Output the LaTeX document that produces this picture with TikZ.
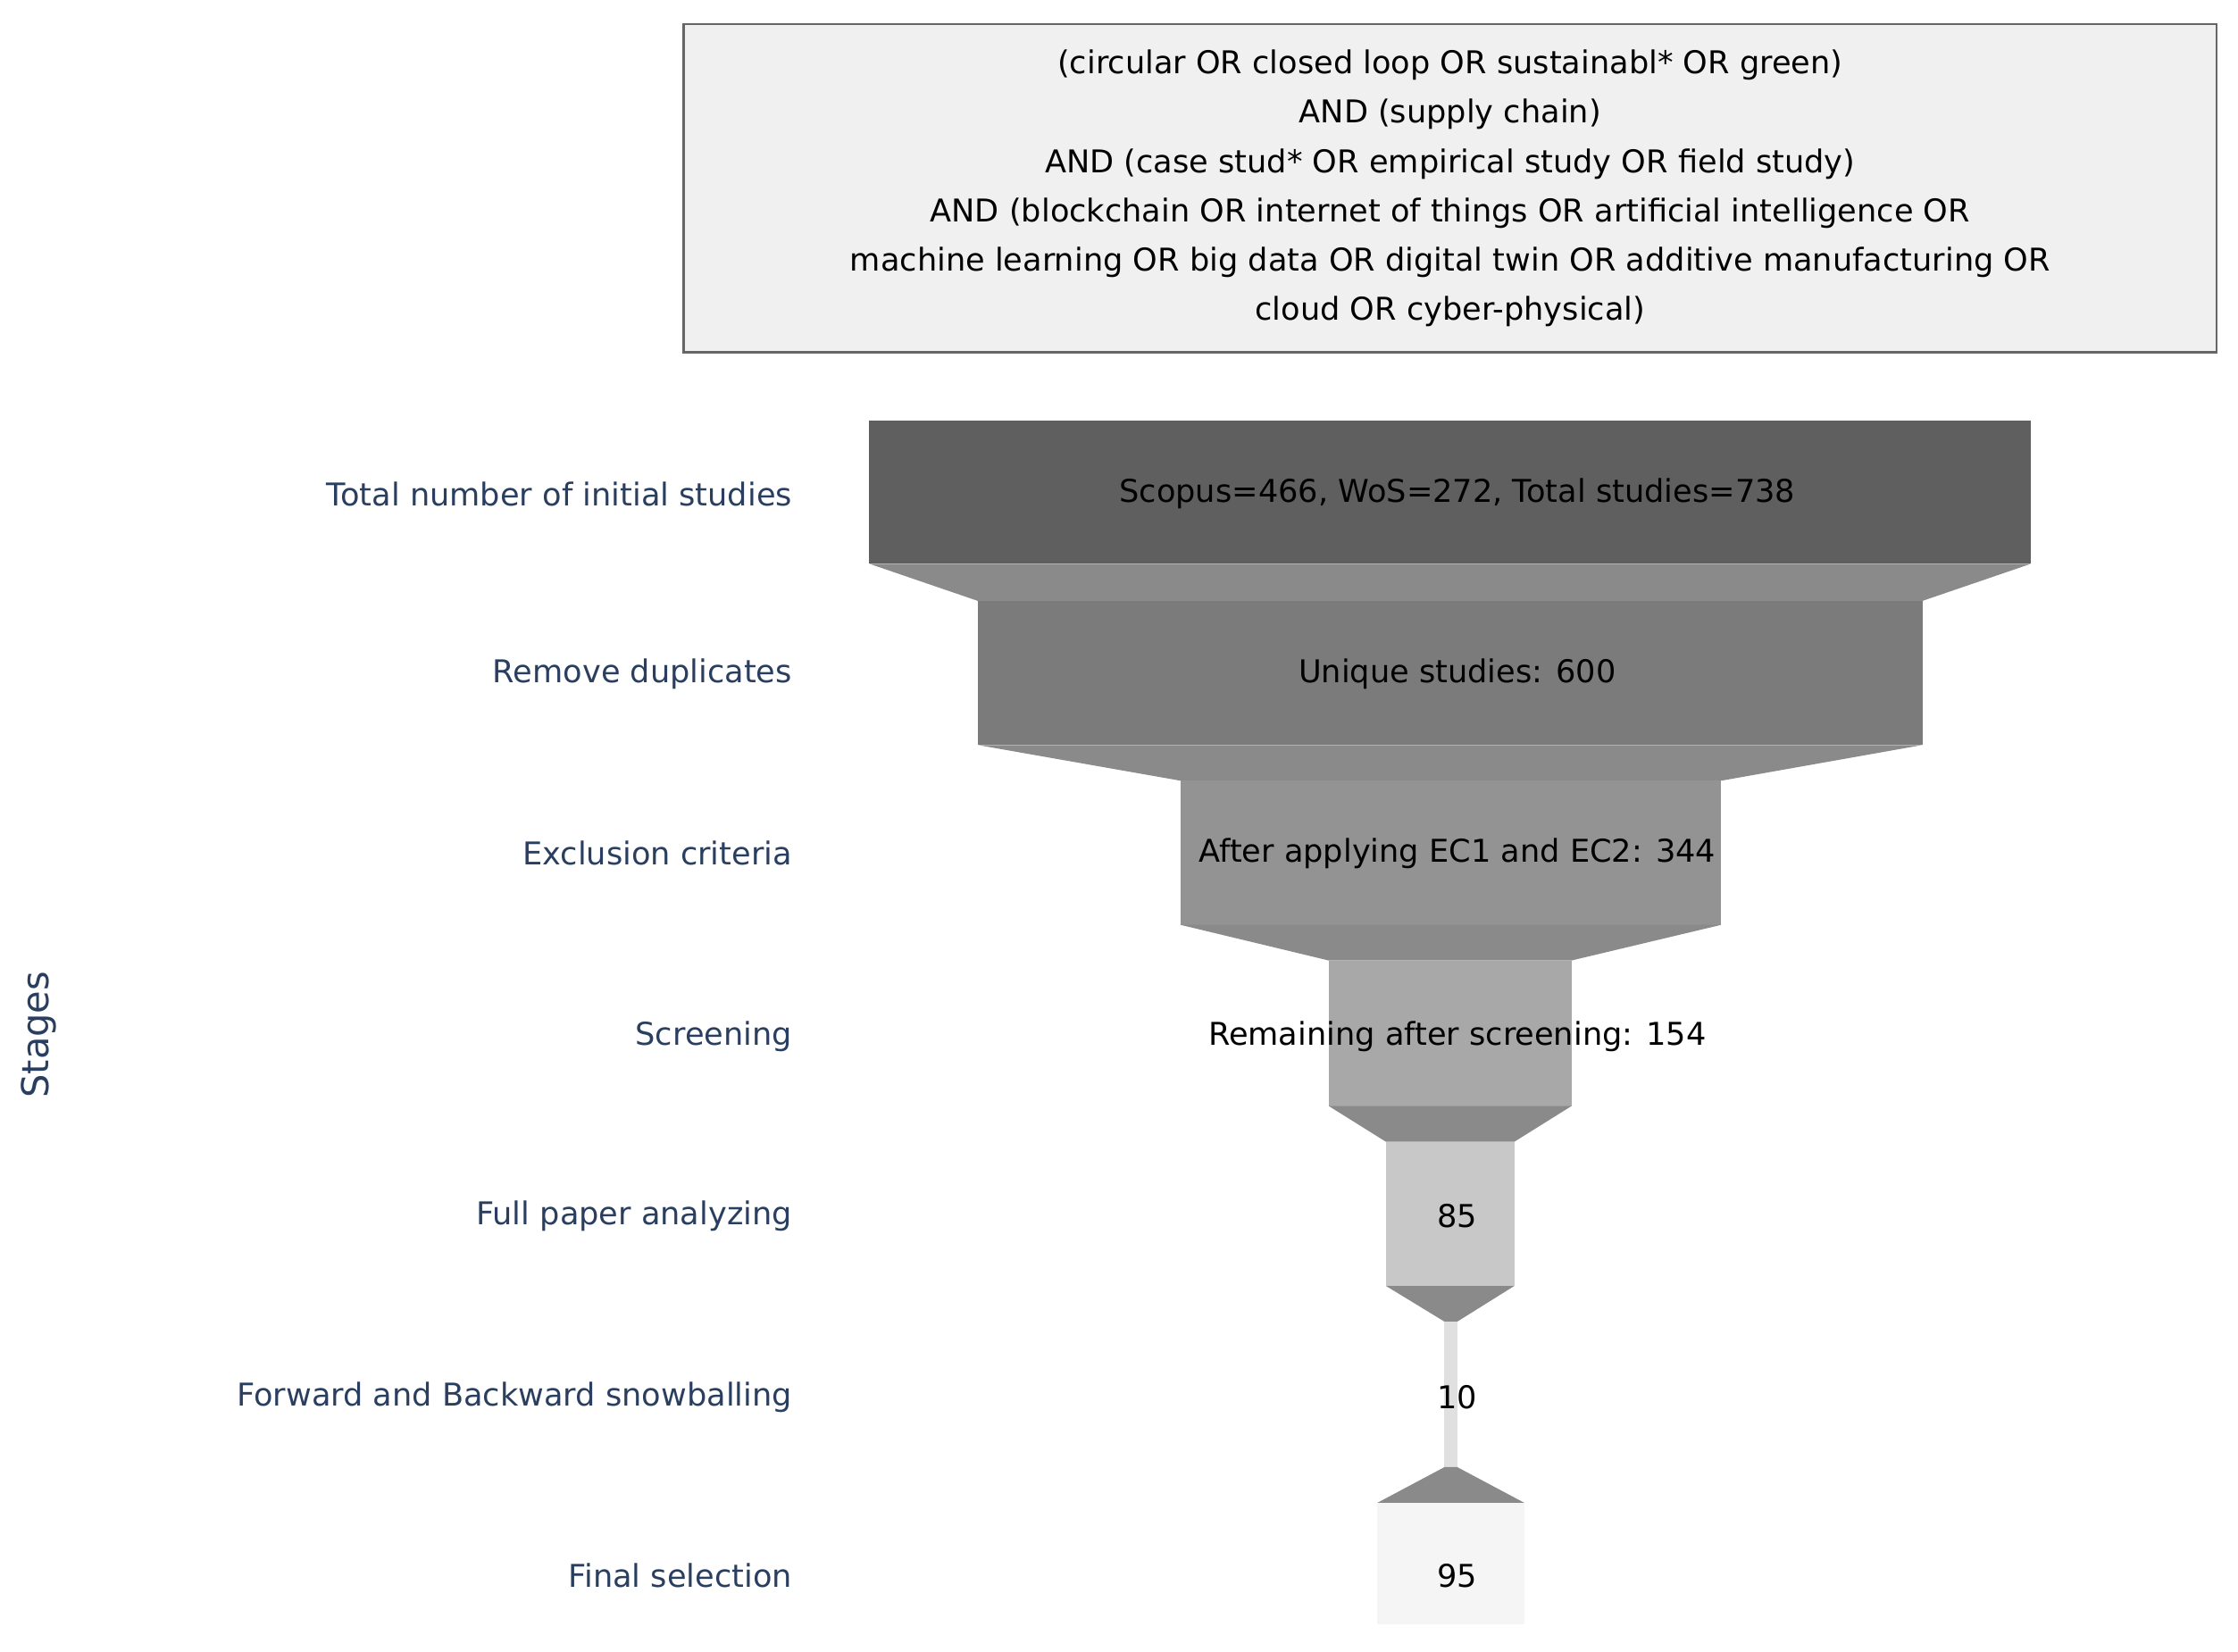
\documentclass[tikz,border=0pt]{standalone}
\usepackage{fontspec}
\setmainfont{DejaVu Sans}
\definecolor{lab}{HTML}{2A3F5F}
\definecolor{conn}{HTML}{8A8A8A}
\definecolor{b1}{HTML}{5F5F5F}
\definecolor{b2}{HTML}{7B7B7B}
\definecolor{b3}{HTML}{939393}
\definecolor{b4}{HTML}{A8A8A8}
\definecolor{b5}{HTML}{C8C8C8}
\definecolor{b6}{HTML}{E0E0E0}
\definecolor{b7}{HTML}{F5F5F5}
\begin{document}
\begin{tikzpicture}[x=0.5pt,y=-0.5pt,
  stagelab/.style={anchor=east,text=lab,font=\fontsize{11}{14}\selectfont},
  val/.style={font=\fontsize{11}{14}\selectfont,text=black},
  conn/.style={fill=conn,draw=none}]
\useasboundingbox (0,0) rectangle (1568,1157);
\node[draw=gray!80!black,fill=black!6,line width=0.8pt,minimum width=1074*0.5pt,minimum height=230*0.5pt,align=center,font=\fontsize{11}{17.3}\selectfont] (q) at (1016,132)
{(circular OR closed loop OR sustainabl* OR green)\\AND (supply chain)\\AND (case stud* OR empirical study OR field study)\\AND (blockchain OR internet of things OR artificial intelligence OR\\machine learning OR big data OR digital twin OR additive manufacturing OR\\cloud OR cyber-physical)};
% bars
\fill[b1] (609,295) rectangle (1423,395);
\fill[conn] (609,395) -- (1423,395) -- (1347,421) -- (685,421) -- cycle;
\fill[b2] (685,421) rectangle (1347,522);
\fill[conn] (685,522) -- (1347,522) -- (1206,547) -- (827,547) -- cycle;
\fill[b3] (827,547) rectangle (1206,648);
\fill[conn] (827,648) -- (1206,648) -- (1101,673) -- (931,673) -- cycle;
\fill[b4] (931,673) rectangle (1101,775);
\fill[conn] (931,775) -- (1101,775) -- (1061,800) -- (971,800) -- cycle;
\fill[b5] (971,800) rectangle (1061,901);
\fill[conn] (971,901) -- (1061,901) -- (1021,926) -- (1012,926) -- cycle;
\fill[b6] (1012,926) rectangle (1021,1028);
\fill[conn] (1012,1028) -- (1021,1028) -- (1068,1053) -- (965,1053) -- cycle;
\fill[b7] (965,1053) rectangle (1068,1138);
% values
\node[val] (v1) at (1021,346) {Scopus=466, WoS=272, Total studies=738};
\node[val] (v2) at (1021,472) {Unique studies: 600};
\node[val] (v3) at (1021,598) {After applying EC1 and EC2: 344};
\node[val] (v4) at (1021,726) {Remaining after screening: 154};
\node[val] (v5) at (1021,852) {85};
\node[val] (v6) at (1021,979) {10};
\node[val] (v7) at (1021,1104) {95};
% labels
\node[stagelab] (l1) at (562,346) {Total number of initial studies};
\node[stagelab] (l2) at (562,472) {Remove duplicates};
\node[stagelab] (l3) at (562,598) {Exclusion criteria};
\node[stagelab] (l4) at (562,726) {Screening};
\node[stagelab] (l5) at (562,852) {Full paper analyzing};
\node[stagelab] (l6) at (562,979) {Forward and Backward snowballing};
\node[stagelab] (l7) at (562,1104) {Final selection};
\node[rotate=90,text=lab,font=\fontsize{13}{16}\selectfont] (st) at (27,725) {Stages};
\end{tikzpicture}
\end{document}
